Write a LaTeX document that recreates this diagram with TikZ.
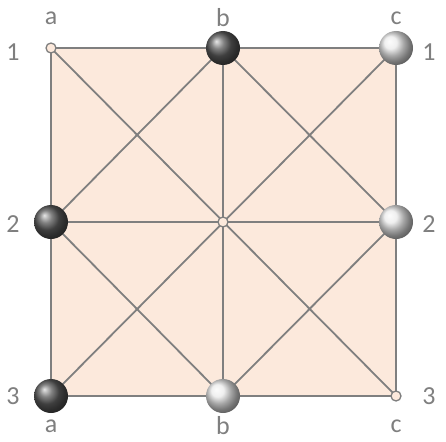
\documentclass[tikz,border=0pt]{standalone}
\usepackage{fontspec}
\setmainfont{Carlito}
\definecolor{boardfill}{HTML}{FCE9DC}
\definecolor{boardline}{HTML}{7F7F7F}
\definecolor{labelcol}{HTML}{7F7F7F}
\begin{document}
\begin{tikzpicture}[x=1pt,y=-1pt,
  lbl/.style={text=labelcol,font=\fontsize{26}{26}\selectfont,inner sep=0pt},
  pt/.style={circle,draw=boardline,fill=boardfill,line width=1.3pt,minimum size=10pt,inner sep=0pt},
  blackball/.style={circle,ball color=black!65,minimum size=34pt,inner sep=0pt},
  whiteball/.style={circle,ball color=white!92!black,minimum size=34pt,inner sep=0pt},
  bl/.style={draw=boardline,line width=1.8pt}]
\useasboundingbox (0,0) rectangle (446,441);
\coordinate (a1) at (51,48);
\coordinate (b1) at (223,48);
\coordinate (c1) at (396,48);
\coordinate (a2) at (51,222);
\coordinate (b2) at (223,222);
\coordinate (c2) at (396,222);
\coordinate (a3) at (51,396);
\coordinate (b3) at (223,396);
\coordinate (c3) at (396,396);
\fill[boardfill] (a1) rectangle (c3);
\draw[bl] (a1) -- (c1) -- (c3) -- (a3) -- cycle;
\draw[bl] (a1) -- (c3);
\draw[bl] (c1) -- (a3);
\draw[bl] (b1) -- (b3);
\draw[bl] (a2) -- (c2);
\draw[bl] (b1) -- (a2) -- (b3) -- (c2) -- cycle;
\node[pt] (p1) at (a1) {};
\node[pt] (p2) at (b2) {};
\node[pt] (p3) at (c3) {};
\node[blackball] (k1) at (b1) {};
\node[blackball] (k2) at (a2) {};
\node[blackball] (k3) at (a3) {};
\node[whiteball] (w1) at (c1) {};
\node[whiteball] (w2) at (c2) {};
\node[whiteball] (w3) at (b3) {};
\node[lbl] (ta) at (51,18) {a};
\node[lbl] (tb) at (223,18) {b};
\node[lbl] (tc) at (396,18) {c};
\node[lbl] (ba) at (51,426) {a};
\node[lbl] (bb) at (223,426) {b};
\node[lbl] (bc) at (396,426) {c};
\node[lbl] (l1) at (13,52) {1};
\node[lbl] (l2) at (13,224) {2};
\node[lbl] (l3) at (13,396) {3};
\node[lbl] (r1) at (429,52) {1};
\node[lbl] (r2) at (429,224) {2};
\node[lbl] (r3) at (429,396) {3};
\end{tikzpicture}
\end{document}
